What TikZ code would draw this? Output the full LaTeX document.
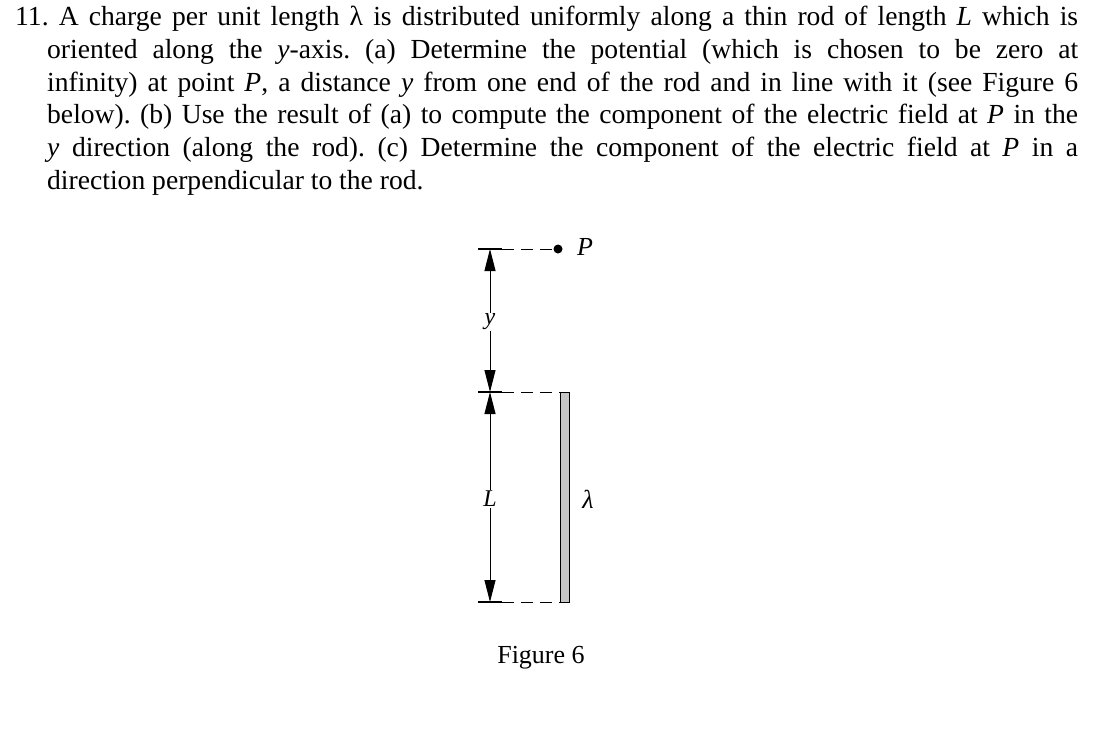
\documentclass[tikz,border=0pt]{standalone}
\usepackage{fontspec}
\setmainfont{Liberation Serif}
\usetikzlibrary{arrows.meta}
\begin{document}
\begin{tikzpicture}[x=1pt,y=-1pt,
  dim/.style={line width=1pt,-{Triangle[length=22pt,width=11pt]}},
  dsh/.style={line width=1pt,dash pattern=on 12pt off 7pt},
  tick/.style={line width=1.3pt}]
\useasboundingbox (0,0) rectangle (1117,729);
\node[anchor=north west,inner sep=0pt,text width=1063pt,align=justify] (txt) at (15,6) {\fontsize{27.6}{32.7}\selectfont\frenchspacing\hangindent=32pt\hangafter=1
11. A charge per unit length λ is distributed uniformly along a thin rod of length \textit{L} which is\linebreak oriented along the \textit{y}-axis. (a) Determine the potential (which is chosen to be zero at\linebreak infinity) at point \textit{P}, a distance \textit{y} from one end of the rod and in line with it (see Figure 6\linebreak below). (b) Use the result of (a) to compute the component of the electric field at \textit{P} in the\linebreak \textit{y} direction (along the rod). (c) Determine the component of the electric field at \textit{P} in a\linebreak direction perpendicular to the rod.\par};
\coordinate (t1) at (490,249);
\coordinate (t2) at (490,392);
\coordinate (t3) at (490,602);
\draw[tick] (478,249) -- (502,249);
\draw[tick] (478,392) -- (502,392);
\draw[tick] (478,602) -- (502,602);
\node[circle,fill,inner sep=0pt,minimum size=9pt] (P) at (558,249) {};
\node[font=\fontsize{26}{30}\selectfont\itshape] (Pl) at (585,247) {P};
\draw[dsh] (502,249) -- (P);
\draw[dsh] (502,392) -- (560,392);
\draw[dsh] (502,602) -- (560,602);
\node[fill=white,inner sep=1pt,font=\fontsize{24}{28}\selectfont\itshape] (yl) at (490,322) {y};
\node[fill=white,inner sep=1pt,font=\fontsize{24}{28}\selectfont\itshape] (Ll) at (490,499) {L};
\draw[dim] (yl.north) -- (t1);
\draw[dim] (yl.south) -- (t2);
\draw[dim] (Ll.north) -- (t2);
\draw[dim] (Ll.south) -- (t3);
\node[draw,line width=1pt,fill=gray!45,minimum width=9pt,minimum height=210pt,inner sep=0pt] (rod) at (564.5,497) {};
\node[font=\fontsize{26}{30}\selectfont\itshape] (lam) at (588,499) {λ};
\node[font=\fontsize{26}{30}\selectfont] (fig) at (541,658) {Figure 6};
\end{tikzpicture}
\end{document}
